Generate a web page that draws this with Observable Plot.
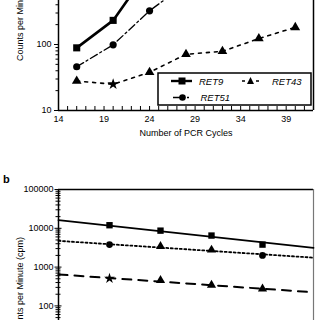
<!DOCTYPE html>
<html>
<head>
<meta charset="utf-8">
<script src="https://cdn.jsdelivr.net/npm/d3@7"></script>
<script src="https://cdn.jsdelivr.net/npm/@observablehq/plot@0.6"></script>
<style>
  html, body { margin: 0; padding: 0; background: #fff; }
  body { width: 320px; height: 320px; overflow: hidden; position: relative; font-family: "Liberation Sans", Arial, sans-serif; }
  #panelA, #panelB { position: absolute; left: 0; }
  #panelA { top: -98px; }
  #panelB { top: 179px; }
  #tagB { position: absolute; left: 3px; top: 173px; z-index: 2; font: bold 11px "Liberation Sans", Arial, sans-serif; }
  svg text { fill: #000; }
</style>
</head>
<body>
<div id="panelA"></div>
<div id="panelB"></div>
<div id="tagB">b</div>
<script>
// ---- Panel a: counts per minute vs number of PCR cycles ----
const ret9Cycles = [16, 20, 24];
const ret9Counts = [89, 232, 1400];
const ret51Cycles = [16, 20, 24, 28];
const ret51Counts = [46, 99, 324, 830];
const ret43Cycles = [16, 20, 24, 28, 32, 36, 40];
const ret43Counts = [28, 25, 38, 71, 79, 123, 182];
const ret43Symbols = ["triangle", "star", "triangle", "triangle", "triangle", "triangle", "triangle"];
const cycleTickLabels = [14, 19, 24, 29, 34, 39];
const cycleMinorTicks = d3.range(14, 43);
const countDecadesA = [10, 100, 1000];

// ---- Panel b: counts per minute over time, with fitted lines ----
const timePoints = [1, 2, 3, 4];
const fitTimes = [0, 5];
const squareCounts = [12000, 8700, 6500, 3800];
const squareFit = [16200, 3130];
const dottedCounts = [3800, 3450, 2770, 2000];
const dottedSymbols = ["circle", "triangle", "triangle", "circle"];
const dottedFit = [4750, 1750];
const dashedCounts = [510, 455, 345, 275];
const dashedSymbols = ["star", "triangle", "triangle", "triangle"];
const dashedFit = [645, 224];
const countDecadesB = [1, 10, 100, 1000, 10000, 100000];

const font = "Liberation Sans, Arial, sans-serif";
const minorLog = (lo, hi) => d3.range(Math.log10(lo), Math.log10(hi)).flatMap(e => d3.range(2, 10).map(m => m * 10 ** e));

const series = (xs, ys) => xs.map((x, i) => ({x, y: ys[i]}));

// Panel a
const a = Plot.plot({
  width: 320, height: 238,
  marginLeft: 58, marginRight: 7, marginTop: 10, marginBottom: 30,
  style: {fontFamily: font, fontSize: "9px", background: "#fff", color: "#000"},
  x: {domain: [14, 42]},
  y: {type: "log", domain: [10, 10000]},
  marks: [
    Plot.axisY(countDecadesA, {tickSize: 4, tickPadding: 3, tickFormat: d => String(d),
      label: "Counts per Minute (cpm)", labelAnchor: "center", labelArrow: "none", labelOffset: 42}),
    Plot.axisY(minorLog(10, 1000), {tickSize: 2.5, tickFormat: () => "", label: null}),
    Plot.axisX(cycleMinorTicks, {tickSize: -4, tickFormat: () => "", label: null}),
    Plot.axisX(cycleTickLabels, {tickSize: 0, tickPadding: 5, letterSpacing: "1px", label: null}),
    Plot.axisX(cycleTickLabels, {tickSize: 0, tickFormat: () => "",
      label: "Number of PCR Cycles", labelAnchor: "center", labelArrow: "none", labelOffset: 25}),
    Plot.ruleX([14], {strokeWidth: 1.5}),
    Plot.ruleY([10], {strokeWidth: 1.5}),
    Plot.ruleX([42], {strokeWidth: 1.5}),
    Plot.line(series(ret9Cycles, ret9Counts), {x: "x", y: "y", stroke: "#000", strokeWidth: 2.6}),
    Plot.dot(series(ret9Cycles, ret9Counts), {x: "x", y: "y", symbol: "square", r: 4, fill: "#000"}),
    Plot.line(series(ret51Cycles, ret51Counts), {x: "x", y: "y", stroke: "#000", strokeWidth: 1.3, strokeDasharray: "8,3,2,3"}),
    Plot.dot(series(ret51Cycles, ret51Counts), {x: "x", y: "y", symbol: "circle", r: 3.6, fill: "#000"}),
    Plot.line(series(ret43Cycles, ret43Counts), {x: "x", y: "y", stroke: "#000", strokeWidth: 1.6, strokeDasharray: "3,5"}),
    Plot.dot(series(ret43Cycles, ret43Counts).map((d, i) => ({...d, s: ret43Symbols[i]})), {x: "x", y: "y", symbol: "s", r: 3.6, fill: "#000"})
  ]
});

// Legend box in panel a (svg coordinates; the panel is shifted up by 98px)
{
  const svg = d3.select(a);
  const oy = 98;
  const g = svg.append("g").attr("font-family", font).attr("font-size", 9.5).attr("font-style", "italic").attr("text-anchor", "start");
  g.append("rect").attr("x", 158).attr("y", 73 + oy).attr("width", 153).attr("height", 32)
    .attr("fill", "#fff").attr("stroke", "#000").attr("stroke-width", 1.5);
  // RET9
  g.append("line").attr("x1", 171).attr("x2", 192).attr("y1", 81 + oy).attr("y2", 81 + oy).attr("stroke", "#000").attr("stroke-width", 2.4);
  g.append("rect").attr("x", 178.5).attr("y", 77.5 + oy).attr("width", 7).attr("height", 7).attr("fill", "#000");
  g.append("text").attr("x", 199).attr("y", 84.5 + oy).text("RET9");
  // RET43
  g.append("line").attr("x1", 242).attr("x2", 259).attr("y1", 81 + oy).attr("y2", 81 + oy).attr("stroke", "#000").attr("stroke-width", 1.6).attr("stroke-dasharray", "3,4");
  g.append("path").attr("d", `M250.5,${77 + oy}L254,${84 + oy}L247,${84 + oy}Z`).attr("fill", "#000");
  g.append("text").attr("x", 272).attr("y", 84.5 + oy).text("RET43");
  // RET51
  g.append("line").attr("x1", 173).attr("x2", 190).attr("y1", 97.5 + oy).attr("y2", 97.5 + oy).attr("stroke", "#000").attr("stroke-width", 1.3).attr("stroke-dasharray", "11,3,2,3");
  g.append("circle").attr("cx", 182.5).attr("cy", 97.5 + oy).attr("r", 3.3).attr("fill", "#000");
  g.append("text").attr("x", 200.5).attr("y", 101 + oy).text("RET51");
}
document.getElementById("panelA").append(a);

// Panel b
const b = Plot.plot({
  width: 320, height: 234,
  marginLeft: 58, marginRight: 7, marginTop: 10, marginBottom: 30,
  style: {fontFamily: font, fontSize: "9px", background: "#fff", color: "#000"},
  x: {domain: [0, 5], axis: null},
  y: {type: "log", domain: [1, 100000]},
  marks: [
    Plot.axisY(countDecadesB, {tickSize: 0, tickPadding: 5, tickFormat: d => String(d),
      label: "Counts per Minute (cpm)", labelAnchor: "center", labelArrow: "none", labelOffset: 42}),
    Plot.axisY(countDecadesB, {tickSize: 7, dx: 3.5, tickFormat: () => "", label: null}),
    Plot.axisY(minorLog(1, 100000), {tickSize: 5, dx: 2.5, tickFormat: () => "", label: null}),
    Plot.ruleX([0], {strokeWidth: 1.5}),
    Plot.ruleY([100000], {strokeWidth: 1.5}),
    Plot.ruleX([5], {stroke: "#777", strokeWidth: 1.2}),
    Plot.line(series(fitTimes, squareFit), {x: "x", y: "y", stroke: "#000", strokeWidth: 1.8}),
    Plot.dot(series(timePoints, squareCounts), {x: "x", y: "y", symbol: "square", r: 3.6, fill: "#000"}),
    Plot.line(series(fitTimes, dottedFit), {x: "x", y: "y", stroke: "#000", strokeWidth: 1.8, strokeDasharray: "2,2.5"}),
    Plot.dot(series(timePoints, dottedCounts).map((d, i) => ({...d, s: dottedSymbols[i]})), {x: "x", y: "y", symbol: "s", r: 3.4, fill: "#000"}),
    Plot.line(series(fitTimes, dashedFit), {x: "x", y: "y", stroke: "#000", strokeWidth: 2, strokeDasharray: "9,7"}),
    Plot.dot(series(timePoints, dashedCounts).map((d, i) => ({...d, s: dashedSymbols[i]})), {x: "x", y: "y", symbol: "s", r: 3.4, fill: "#000"})
  ]
});
document.getElementById("panelB").append(b);
</script>
</body>
</html>
